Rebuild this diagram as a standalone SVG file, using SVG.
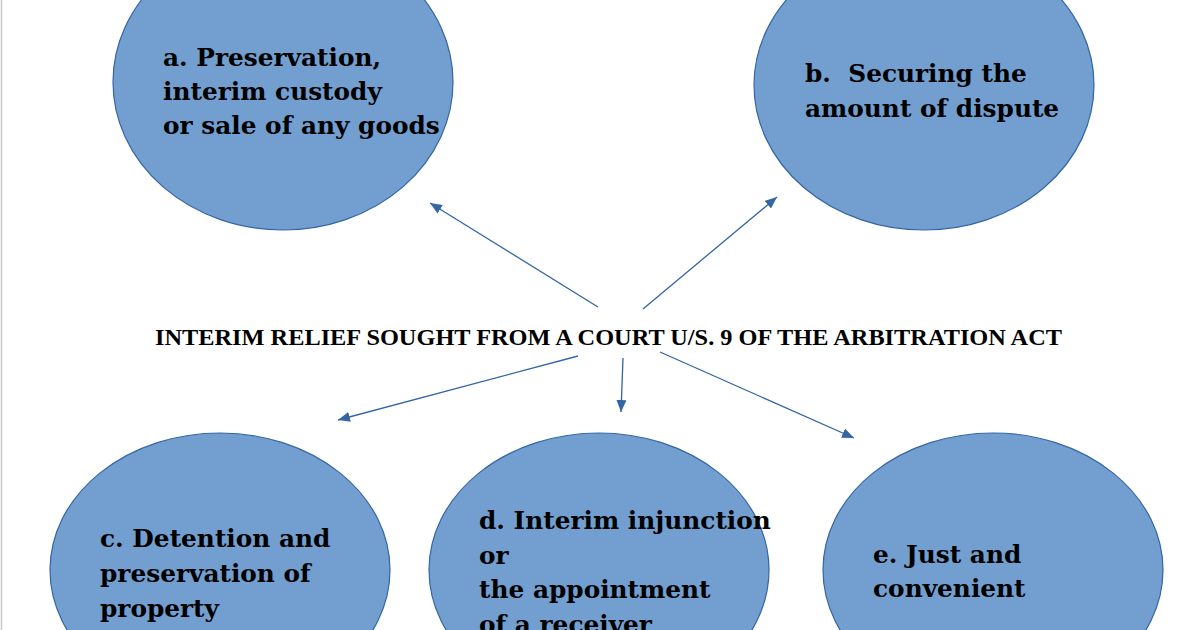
<svg xmlns="http://www.w3.org/2000/svg" width="1200" height="630" viewBox="0 0 1200 630">
<style>
.node ellipse{fill:#729fcf;stroke:#3465a4;stroke-width:1.2}
.lbl{font-family:"DejaVu Serif","Liberation Serif",serif;font-weight:bold;font-size:24.8px;fill:#000;white-space:pre}
.title{font-family:"Liberation Serif","Times New Roman",serif;font-weight:bold;font-size:24px;fill:#000}
.conn line{stroke:#3465a4;stroke-width:1.3;fill:none}
</style>
<defs>
<marker id="ah" viewBox="0 0 12 10" refX="12" refY="5" markerWidth="12" markerHeight="10" markerUnits="userSpaceOnUse" orient="auto">
<path d="M0,0 L12,5 L0,10 z" fill="#3465a4"/>
</marker>
</defs>
<rect width="1200" height="630" fill="#fff"/>
<line x1="1.5" y1="0" x2="1.5" y2="630" stroke="#c8c8c8" stroke-width="1.5"/>
<g id="node-a" class="node">
<ellipse cx="283" cy="82" rx="170" ry="148"/>
<text class="lbl" x="163" y="66">a. Preservation,</text>
<text class="lbl" x="163" y="100">interim custody</text>
<text class="lbl" x="163" y="134">or sale of any goods</text>
</g>
<g id="node-b" class="node">
<ellipse cx="924" cy="85" rx="170" ry="145"/>
<text class="lbl" x="805" y="82">b.  Securing the</text>
<text class="lbl" x="805" y="117">amount of dispute</text>
</g>
<g id="node-c" class="node">
<ellipse cx="220" cy="570" rx="170" ry="137"/>
<text class="lbl" x="100" y="547">c. Detention and</text>
<text class="lbl" x="100" y="582">preservation of</text>
<text class="lbl" x="100" y="617">property</text>
</g>
<g id="node-d" class="node">
<ellipse cx="599" cy="570" rx="170" ry="137"/>
<text class="lbl" x="479" y="529">d. Interim injunction</text>
<text class="lbl" x="479" y="564">or</text>
<text class="lbl" x="479" y="598">the appointment</text>
<text class="lbl" x="479" y="633">of a receiver</text>
</g>
<g id="node-e" class="node">
<ellipse cx="993" cy="570" rx="170" ry="137"/>
<text class="lbl" x="873" y="563">e. Just and</text>
<text class="lbl" x="873" y="597">convenient</text>
</g>
<g id="node-center">
<text class="title" x="155" y="345" textLength="907" lengthAdjust="spacingAndGlyphs">INTERIM RELIEF SOUGHT FROM A COURT U/S. 9 OF THE ARBITRATION ACT</text>
</g>
<g id="connectors" class="conn">
<line x1="598" y1="307" x2="430" y2="203" marker-end="url(#ah)"/>
<line x1="643" y1="309" x2="777" y2="197" marker-end="url(#ah)"/>
<line x1="578" y1="356" x2="338" y2="420" marker-end="url(#ah)"/>
<line x1="623" y1="358" x2="621" y2="412" marker-end="url(#ah)"/>
<line x1="660" y1="352" x2="854" y2="438" marker-end="url(#ah)"/>
</g>
</svg>
